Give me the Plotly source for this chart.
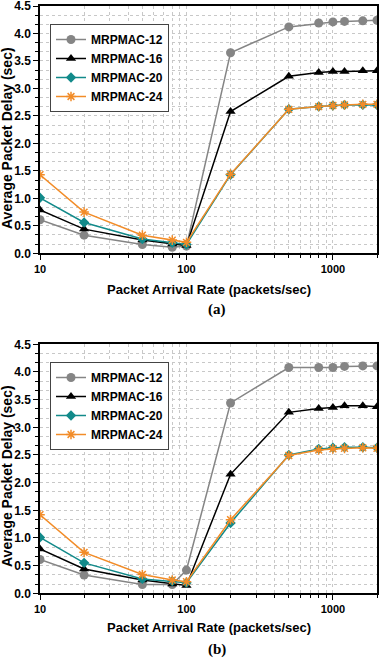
import plotly.graph_objects as go

# ---------------- data ----------------
rates = [10, 20, 50, 80, 100, 200, 500, 800, 1000, 1200, 1600, 2000]
series_names = ["MRPMAC-12", "MRPMAC-16", "MRPMAC-20", "MRPMAC-24"]

a_mrp12 = [0.61, 0.33, 0.16, 0.11, 0.13, 3.65, 4.12, 4.19, 4.21, 4.22, 4.23, 4.24]
a_mrp16 = [0.79, 0.44, 0.24, 0.17, 0.14, 2.58, 3.22, 3.29, 3.31, 3.31, 3.32, 3.32]
a_mrp20 = [1.01, 0.56, 0.26, 0.19, 0.16, 1.43, 2.62, 2.67, 2.69, 2.70, 2.70, 2.70]
a_mrp24 = [1.43, 0.75, 0.33, 0.24, 0.20, 1.44, 2.62, 2.67, 2.69, 2.70, 2.71, 2.71]

b_mrp12 = [0.61, 0.33, 0.16, 0.16, 0.42, 3.44, 4.08, 4.08, 4.08, 4.10, 4.11, 4.11]
b_mrp16 = [0.80, 0.44, 0.24, 0.17, 0.14, 2.15, 3.27, 3.34, 3.36, 3.39, 3.39, 3.37]
b_mrp20 = [1.01, 0.55, 0.26, 0.22, 0.19, 1.27, 2.50, 2.61, 2.63, 2.64, 2.64, 2.63]
b_mrp24 = [1.42, 0.74, 0.34, 0.24, 0.21, 1.33, 2.49, 2.59, 2.61, 2.62, 2.63, 2.62]

x_tickvals = [10, 100, 1000]
x_ticktext = ["10", "100", "1000"]
y_tickvals = [0.0, 0.5, 1.0, 1.5, 2.0, 2.5, 3.0, 3.5, 4.0, 4.5]
y_ticktext = ["0.0", "0.5", "1.0", "1.5", "2.0", "2.5", "3.0", "3.5", "4.0", "4.5"]

x_title = "Packet Arrival Rate (packets/sec)"
y_title = "Average Packet Delay (sec)"
panel_labels = ["(a)", "(b)"]

# ---------------- styles ----------------
W, H = 379, 658
ML, MR = 40, 2
colors = ["#858585", "#000000", "#128a8a", "#f28c28"]
symbols = ["circle", "triangle-up", "diamond", "asterisk-open"]
msizes = [9, 9, 8, 8]
FONT = "Liberation Sans, Arial, sans-serif"

def py(px):  # pixel -> paper y
    return 1 - px / H

def px_x(px):  # pixel -> paper x
    return (px - ML) / (W - ML - MR)

fig = go.Figure()

panels = [
    (["x", "y"], [a_mrp12, a_mrp16, a_mrp20, a_mrp24], "legend"),
    (["x2", "y2"], [b_mrp12, b_mrp16, b_mrp20, b_mrp24], "legend2"),
]

for (xa, ya), data, leg in panels:
    for i, (name, vals) in enumerate(zip(series_names, data)):
        marker = dict(symbol=symbols[i], size=msizes[i], color=colors[i])
        if symbols[i] == "asterisk-open":
            marker["line"] = dict(color=colors[i], width=1.5)
        fig.add_trace(go.Scatter(
            x=rates, y=vals, name=name, mode="lines+markers",
            line=dict(color=colors[i], width=1.5),
            marker=marker, xaxis=xa, yaxis=ya, legend=leg,
        ))

grid = dict(gridcolor="#c8c8c8", griddash="dot", gridwidth=1)
xrange_log = [1, 3.30103]
yrange = [0, 4.5]

def xaxis_main(domain_anchor):
    return dict(
        type="log", range=xrange_log, domain=[0, 1], anchor=domain_anchor,
        automargin=False, ticklabeloverflow="allow",
        tickmode="array", tickvals=x_tickvals, ticktext=x_ticktext,
        ticks="outside", ticklen=5, tickwidth=1.2, tickcolor="black",
        showline=True, linecolor="black", linewidth=1.5, mirror=True,
        showgrid=True, **grid, zeroline=False,
        minor=dict(dtick="D1", ticks="outside", ticklen=3, tickcolor="black",
                   showgrid=True, **grid),
        tickfont=dict(family=FONT, size=11, color="black", weight="bold"),
        ticklabelstandoff=0,
    )

def yaxis_main(domain, anchor):
    return dict(
        range=yrange, domain=domain, anchor=anchor, automargin=False,
        ticklabeloverflow="allow",
        tickmode="array", tickvals=y_tickvals, ticktext=y_ticktext,
        ticks="outside", ticklen=5, tickwidth=1.2, tickcolor="black",
        showline=True, linecolor="black", linewidth=1.5, mirror=True,
        showgrid=True, **grid, zeroline=False,
        minor=dict(dtick=0.5 / 3, ticks="outside", ticklen=3, tickcolor="black",
                   showgrid=True, **grid),
        tickfont=dict(family=FONT, size=12, color="black", weight="bold"),
    )

def xaxis_top(over, anchor):
    return dict(
        type="log", range=xrange_log, overlaying=over, side="top", anchor=anchor,
        automargin=False,
        tickmode="array", tickvals=x_tickvals, showticklabels=False,
        ticks="inside", ticklen=5, tickwidth=1.2, tickcolor="black",
        showline=False, showgrid=False, zeroline=False,
        minor=dict(dtick="D1", ticks="inside", ticklen=3, tickcolor="black", showgrid=False),
    )

def yaxis_right(over, anchor):
    return dict(
        range=yrange, overlaying=over, side="right", anchor=anchor,
        automargin=False,
        tickmode="array", tickvals=y_tickvals, showticklabels=False,
        ticks="inside", ticklen=5, tickwidth=1.2, tickcolor="black",
        showline=False, showgrid=False, zeroline=False,
        minor=dict(dtick=0.5 / 3, ticks="inside", ticklen=3, tickcolor="black", showgrid=False),
    )

dom_a = [py(253.3), py(6)]
dom_b = [py(593.3), py(344.3)]

legend_common = dict(
    xanchor="left", yanchor="top", bgcolor="white",
    bordercolor="#444444", borderwidth=1,
    font=dict(family=FONT, size=12, color="black", weight="bold"),
    tracegroupgap=0, itemwidth=30,
)

fig.update_layout(
    width=W, height=H,
    margin=dict(l=ML, r=MR, t=0, b=0, autoexpand=False),
    paper_bgcolor="white", plot_bgcolor="white",
    xaxis=xaxis_main("y"),
    yaxis=yaxis_main(dom_a, "x"),
    xaxis2=xaxis_main("y2"),
    yaxis2=yaxis_main(dom_b, "x2"),
    xaxis3=xaxis_top("x", "y"),
    yaxis3=yaxis_right("y", "x"),
    xaxis4=xaxis_top("x2", "y2"),
    yaxis4=yaxis_right("y2", "x2"),
    legend=dict(x=px_x(50), y=py(24), **legend_common),
    legend2=dict(x=px_x(50), y=py(362), **legend_common),
    showlegend=True,
)

ann = []
title_pos = [
    dict(ycenter=py(138), xt=py(289), lab=py(309.5), label=panel_labels[0]),
    dict(ycenter=py(476), xt=py(627.5), lab=py(649), label=panel_labels[1]),
]
for p in title_pos:
    ann.append(dict(text=y_title, textangle=-90, x=px_x(7), y=p["ycenter"],
                    xref="paper", yref="paper", showarrow=False,
                    xanchor="center", yanchor="middle",
                    font=dict(family=FONT, size=14, color="black", weight="bold")))
    ann.append(dict(text=x_title, x=0.5, y=p["xt"], xref="paper", yref="paper",
                    showarrow=False, xanchor="center", yanchor="middle",
                    font=dict(family=FONT, size=13, color="black", weight="bold")))
    ann.append(dict(text=p["label"], x=px_x(217), y=p["lab"], xref="paper", yref="paper",
                    showarrow=False, xanchor="center", yanchor="middle",
                    font=dict(family="Liberation Serif, Times New Roman, serif", size=15,
                              color="black", weight="bold")))
fig.update_layout(annotations=ann)

fig.write_html(
    "out.html",
    config={"displayModeBar": False},
    post_script="document.body.style.margin='0';document.body.style.overflow='hidden';",
)
